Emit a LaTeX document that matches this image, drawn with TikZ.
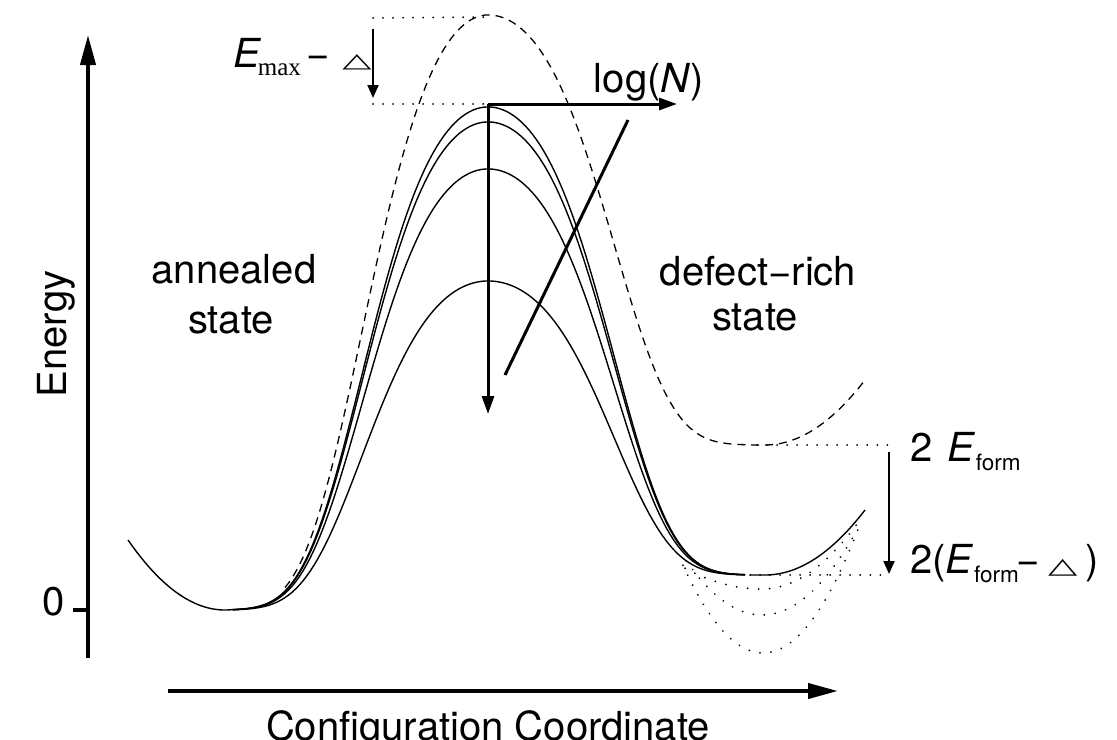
\documentclass[tikz,border=0pt]{standalone}
\usepackage{fontspec}
\usepackage{graphicx}
\setmainfont{TeX Gyre Heros}
\newfontfamily\serifmax{Liberation Serif}
\newfontfamily\symfnt{DejaVu Sans}
\usetikzlibrary{arrows.meta}
\begin{document}
\begin{tikzpicture}[x=0.5pt,y=-0.5pt,
  declare function={bmp(\t)=exp(-(0.28*(abs(\t-488)/100)^2+0.125*(abs(\t-488)/100)^4));
                    wel(\t)=0.0065*(max(\t-765,0))^2;},
  lab/.style={font=\fontsize{20}{25}\selectfont, inner sep=0pt},
  axisline/.style={line width=2pt, -{Triangle[length=15pt,width=7.5pt]}},
  curve/.style={line width=0.7pt},
  dashcurve/.style={line width=0.65pt, dash pattern=on 4pt off 3pt},
  dotline/.style={line width=1pt, line cap=round, dash pattern=on 0.01pt off 5pt},
  dotcurve/.style={line width=1pt, line cap=round, dash pattern=on 0.01pt off 5.5pt},
  bigarrow/.style={line width=1.5pt, -{Triangle[length=9pt,width=6pt]}},
  smallarrow/.style={line width=1pt, -{Triangle[length=6.5pt,width=5.5pt]}},
]
\useasboundingbox (0,0) rectangle (1117,739);

% axes
\coordinate (yb) at (88,658);
\coordinate (yt) at (88,35);
\draw[axisline] (yb) -- (yt);
\coordinate (xb) at (168,691);
\coordinate (xt) at (838,691);
\draw[axisline] (xb) -- (xt);
\coordinate (t0) at (73,610);
\coordinate (t1) at (88,610);
\draw[line width=2pt] (t0) -- (t1);

% wells
\draw[curve] plot[domain=128:233,samples=40] (\x,{610-0.00744*(\x-225)^2});
\draw[curve] plot[domain=750:865,samples=40] (\x,{575-wel(\x)});

% barrier curves
\foreach \P in {107,122,169,281}{
  \draw[curve] plot[domain=233:488,samples=70] (\x,{610-(610-\P)*bmp(\x)})
     -- plot[domain=488:745,samples=70] (\x,{575-(575-\P)*bmp(\x)});
}

% dashed curve
\draw[dashcurve] plot[domain=285:488,samples=60] (\x,{610-595*bmp(\x)})
   -- plot[domain=488:745,samples=70] (\x,{445-430*bmp(\x)})
   -- plot[domain=745:865,samples=30] (\x,{445-wel(\x)});

% dotted wells
\draw[dotcurve] plot[domain=685:762,samples=25] (\x,{589-0.0035*(\x-762)^2})
   -- plot[domain=762:862,samples=30] (\x,{589-0.0072*(\x-762)^2});
\draw[dotcurve] plot[domain=686:857,samples=50] (\x,{615-0.0094*(\x-762)^2});
\draw[dotcurve] plot[domain=683:860,samples=50] (\x,{653-0.0137*(\x-763)^2});

% arrows at the peak
\coordinate (pk) at (488,104);
\coordinate (logtip) at (677,104);
\coordinate (downtip) at (488,414);
\draw[bigarrow] (pk) -- (logtip);
\draw[bigarrow] (pk) -- (downtip);
\coordinate (d0) at (505,375);
\coordinate (d1) at (628,120);
\draw[line width=1.5pt] (d0) -- (d1);

% dotted guides
\coordinate (tl) at (373,18);
\coordinate (tr) at (486,17);
\draw[dotline] (tl) -- (tr);
\coordinate (ml) at (373,104);
\draw[dotline] (ml) -- (pk);
\coordinate (ea0) at (373,29);
\coordinate (ea1) at (373,98);
\draw[smallarrow] (ea0) -- (ea1);
\coordinate (rwu) at (757,445);
\coordinate (rru) at (888,445);
\draw[dotline] (rwu) -- (rru);
\coordinate (rwl) at (750,575);
\coordinate (rrl) at (888,575);
\draw[dotline] (rwl) -- (rrl);
\coordinate (ra0) at (889,452);
\coordinate (ra1) at (889,574);
\draw[smallarrow] (ra0) -- (ra1);

% labels
\node[lab, rotate=90] (energy) at (56,334) {Energy};
\node[lab] (zero) at (54,602) {0};
\node[lab, anchor=base] (ann) at (234,283) {annealed};
\node[lab, anchor=base] (ast) at (231,333) {state};
\node[lab, anchor=base] (def) at (758,285) {defect−rich};
\node[lab, anchor=base] (dst) at (755,330) {state};
\node[lab, anchor=base] (logn) at (649,92) {log(\textit{N})};
\node[lab, anchor=base] (xlab) at (488,740) {Configuration Coordinate};
\node[lab, anchor=base west] (emax) at (233,67)
  {\textit{E}\kern-1.75pt\raisebox{-4pt}{\fontsize{12.5}{12.5}\serifmax max}\kern3pt−\kern6pt{\symfnt\scalebox{0.95}[0.5]{△}}};
\node[lab, anchor=base west] (eform) at (910,461)
  {2 \kern2pt\textit{E}\raisebox{-4.5pt}{\fontsize{11.25}{11.25}\selectfont form}};
\node[lab, anchor=base west] (eformd) at (910,573)
  {2(\textit{E}\raisebox{-4.5pt}{\fontsize{11.25}{11.25}\selectfont form}\kern-1pt−\kern4pt{\symfnt\scalebox{0.95}[0.55]{△}}\kern4pt)};
\end{tikzpicture}
\end{document}
